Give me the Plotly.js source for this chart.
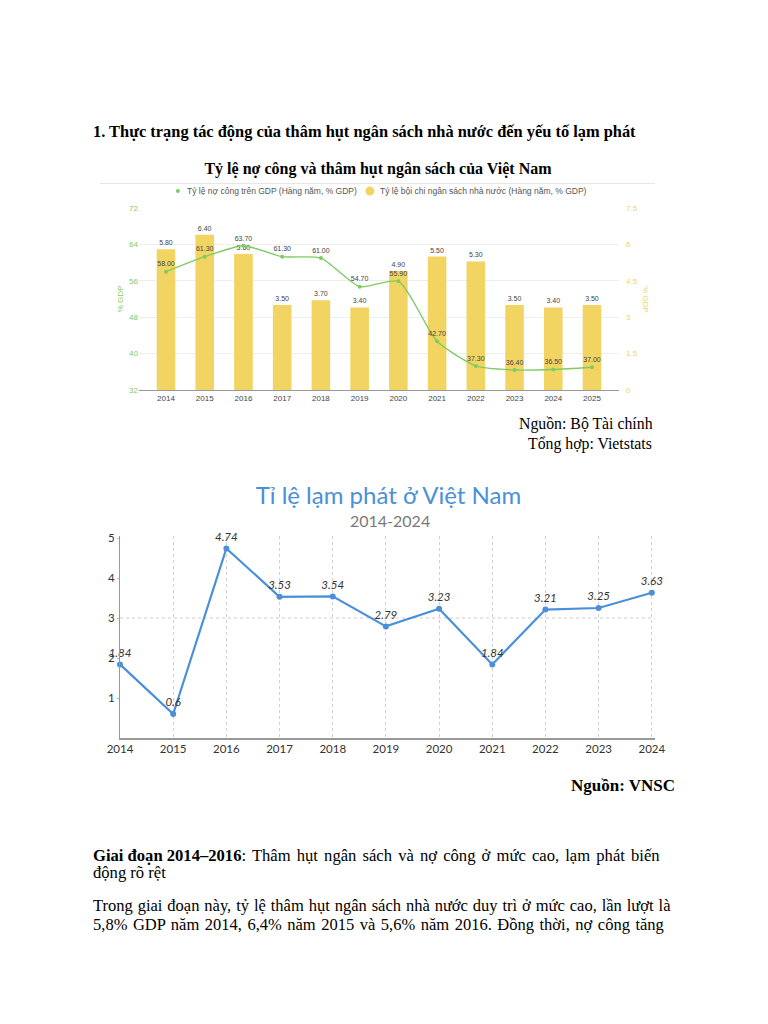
<!DOCTYPE html>
<html><head><meta charset="utf-8">
<script src="https://cdn.plot.ly/plotly-3.0.1.min.js"></script>
<style>
body{margin:0;background:#fff;width:768px;height:1024px;position:relative;font-family:"Liberation Serif","Times New Roman",serif;color:#000;overflow:hidden}
.t{position:absolute;white-space:nowrap}
</style></head><body>
<div class="t" style="left:93px;top:122px;font-size:16.4px;font-weight:bold">1. Thực trạng tác động của thâm hụt ngân sách nhà nước đến yếu tố lạm phát</div>
<div class="t" style="left:0;width:756px;text-align:center;top:160px;font-size:16px;font-weight:bold">Tỷ lệ nợ công và thâm hụt ngân sách của Việt Nam</div>
<div style="position:absolute;left:100px;top:183px;width:555px;border-top:1px solid #e6e6e6"></div>
<div id="c1" style="position:absolute;left:95px;top:170px;width:570px;height:243px"></div>
<div class="t" style="left:519px;top:415px;font-size:15.8px">Nguồn: Bộ Tài chính</div>
<div class="t" style="left:528px;top:435px;font-size:15.8px">Tổng hợp: Vietstats</div>
<div id="c2" style="position:absolute;left:93px;top:470px;width:585px;height:295px"></div>
<div class="t" style="left:571px;top:776px;font-size:17px;font-weight:bold">Nguồn: VNSC</div>
<div class="t" style="left:93px;top:847px;font-size:16.6px;line-height:17px"><b>Giai đoạn 2014–2016</b><span style="word-spacing:2px">: Thâm hụt ngân sách và nợ công ở mức cao, lạm phát biến</span><br>động rõ rệt</div>
<div class="t" style="left:93px;top:896px;font-size:16.5px;line-height:19px;word-spacing:0.8px">Trong giai đoạn này, tỷ lệ thâm hụt ngân sách nhà nước duy trì ở mức cao, lần lượt là<br><span style="word-spacing:1.4px">5,8% GDP năm 2014, 6,4% năm 2015 và 5,6% năm 2016. Đồng thời, nợ công tăng</span></div>
<script>
// Chart 1 data
var years1 = ["2014","2015","2016","2017","2018","2019","2020","2021","2022","2023","2024","2025"];
var publicDebt = [58.00, 61.30, 63.70, 61.30, 61.00, 54.70, 55.90, 42.70, 37.30, 36.40, 36.50, 37.00];
var deficit = [5.80, 6.40, 5.60, 3.50, 3.70, 3.40, 4.90, 5.50, 5.30, 3.50, 3.40, 3.50];
var debtName = "Tỷ lệ nợ công trên GDP (Hàng năm, % GDP)";
var deficitName = "Tỷ lệ bội chi ngân sách nhà nước (Hàng năm, % GDP)";

// Chart 2 data
var years2 = [2014, 2015, 2016, 2017, 2018, 2019, 2020, 2021, 2022, 2023, 2024];
var inflation = [1.84, 0.6, 4.74, 3.53, 3.54, 2.79, 3.23, 1.84, 3.21, 3.25, 3.63];
var title2 = "Tỉ lệ lạm phát ở Việt Nam";
var subtitle2 = "2014-2024";

var green = "#7fcb63", yellow = "#f2d462", sans = "Arial, 'Liberation Sans', sans-serif";
var legY = 1.093;

Plotly.newPlot("c1", [
  {type:"bar", x:years1, y:deficit, yaxis:"y", marker:{color:yellow}, text:deficit.map(function(v){return v.toFixed(2);}),
   textposition:"outside", textfont:{size:7, color:"#444", family:sans}, cliponaxis:false, showlegend:false, name:deficitName},
  {type:"scatter", mode:"lines+markers+text", x:years1, y:publicDebt, yaxis:"y2", line:{color:green, width:1.3, shape:"spline", smoothing:0.6},
   marker:{color:green, size:4}, text:publicDebt.map(function(v){return v.toFixed(2);}), textposition:"top center",
   textfont:{size:7, color:"#444", family:sans}, cliponaxis:false, showlegend:false, name:debtName}
], {
  width:570, height:243, margin:{l:44, r:46, t:38, b:23},
  paper_bgcolor:"rgba(0,0,0,0)", plot_bgcolor:"rgba(0,0,0,0)", bargap:0.52,
  font:{family:sans, size:8, color:"#444"},
  showlegend:false,
  xaxis:{type:"category", showgrid:false, showline:true, linecolor:"#999", linewidth:1, ticks:"", tickfont:{size:8, color:"#444"}},
  yaxis:{side:"right", range:[0,7.5], dtick:1.5, showgrid:true, gridcolor:"#eeeeee", zeroline:false, tickfont:{size:8, color:yellow}, ticklabelstandoff:6},
  yaxis2:{overlaying:"y", side:"left", range:[32,72], dtick:8, showgrid:false, zeroline:false, tickfont:{size:8, color:green},
    title:{text:"% GDP", font:{size:8, color:green}, standoff:4}},
  shapes:[
    {type:"circle", xref:"paper", yref:"paper", xsizemode:"pixel", ysizemode:"pixel", xanchor:0.081, yanchor:legY, x0:-2, x1:2, y0:-2, y1:2, fillcolor:green, line:{width:0}},
    {type:"circle", xref:"paper", yref:"paper", xsizemode:"pixel", ysizemode:"pixel", xanchor:0.481, yanchor:legY, x0:-4.5, x1:4.5, y0:-4.5, y1:4.5, fillcolor:yellow, line:{width:0}}
  ],
  annotations:[
    {xref:"paper", yref:"paper", x:1.07, y:0.5, text:"% GDP", showarrow:false, textangle:90, font:{size:8, color:yellow}},
    {xref:"paper", yref:"paper", x:0.096, y:legY, xanchor:"left", yanchor:"middle", text:debtName, showarrow:false, font:{size:8.5, color:"#555"}},
    {xref:"paper", yref:"paper", x:0.498, y:legY, xanchor:"left", yanchor:"middle", text:deficitName, showarrow:false, font:{size:8.5, color:"#555"}}
  ]
}, {displayModeBar:false, staticPlot:true});

var blue = "#4a90d9", sans2 = "Lato, 'Open Sans', sans-serif";
Plotly.newPlot("c2", [
  {type:"scatter", mode:"lines+markers+text", x:years2, y:inflation, line:{color:blue, width:2.2}, marker:{color:blue, size:6},
   text:inflation.map(String), textposition:"top center", textfont:{size:11.5, color:"#333", family:sans2, style:"italic"}, cliponaxis:false}
], {
  width:585, height:295, margin:{l:27, r:23, t:66, b:27},
  paper_bgcolor:"rgba(0,0,0,0)", plot_bgcolor:"rgba(0,0,0,0)", showlegend:false,
  font:{family:sans2, size:11, color:"#333"},
  title:{text:title2, font:{size:24, color:blue, family:sans2}, x:0.505, xanchor:"center", yref:"paper", y:1, yanchor:"bottom", pad:{b:32}},
  xaxis:{range:[2014, 2024.06], tickvals:years2, ticktext:years2.map(String), showgrid:true, gridcolor:"#d0d0d0", griddash:"dot", gridwidth:1,
    showline:true, linecolor:"#999", linewidth:1.5, zeroline:false, ticks:"", tickfont:{size:11.5, color:"#333"}},
  yaxis:{range:[0,5.05], tickvals:[1,2,3,4,5], showgrid:false, zeroline:false, showline:true, linecolor:"#999", linewidth:1,
    ticks:"outside", ticklen:2, tickcolor:"#bbb", tickfont:{size:11.5, color:"#333"}},
  shapes:[{type:"line", xref:"paper", x0:0, x1:1, yref:"y", y0:3, y1:3, line:{color:"#cccccc", width:1, dash:"dot"}, layer:"below"}],
  annotations:[{xref:"paper", yref:"paper", x:0.505, y:1.0, yshift:27, text:subtitle2, showarrow:false, font:{size:16, color:"#7a7a7a", family:"Lato, 'DejaVu Sans', sans-serif"}}]
}, {displayModeBar:false, staticPlot:true});
</script>
</body></html>
